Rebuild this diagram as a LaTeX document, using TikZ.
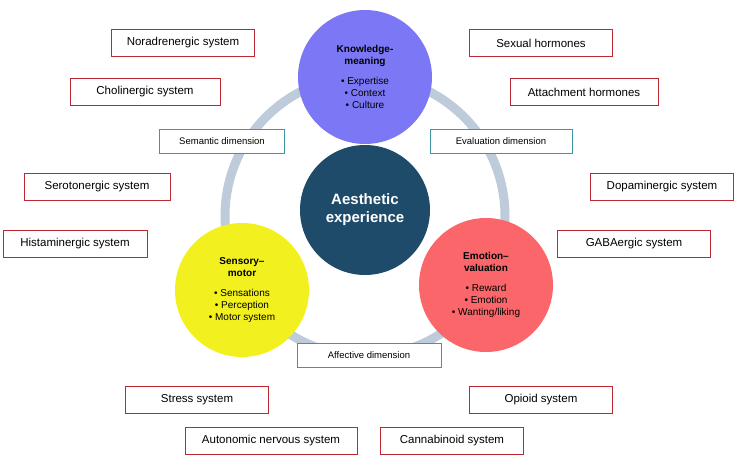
\documentclass[tikz,border=0pt]{standalone}
\usepackage{fontspec}
\setmainfont{Liberation Sans}
\begin{document}
\begin{tikzpicture}[x=1pt,y=-1pt,
 rb/.style={draw={rgb,255:red,190;green,40;blue,50},line width=0.9pt,fill=white,minimum width=143pt,minimum height=27pt,font=\fontsize{11.5}{13}\selectfont},
 tb/.style={draw={rgb,255:red,60;green,150;blue,170},line width=0.8pt,fill=white,minimum height=24pt,font=\fontsize{9.5}{11}\selectfont},
 circ/.style={circle,minimum size=134pt,align=center,font=\fontsize{10}{12}\selectfont}]
\useasboundingbox (0,0) rectangle (736,458);
\draw[line width=9pt,color={rgb,255:red,190;green,203;blue,218}] (365,216) circle (140);
\node[circ,fill={rgb,255:red,31;green,75;blue,107},text=white,minimum size=130pt,font=\bfseries\fontsize{15}{18}\selectfont] (c) at (365,210) {Aesthetic\\experience};
\node[circ,fill={rgb,255:red,124;green,120;blue,245}] (k) at (365,77) {\textbf{Knowledge-}\\\textbf{meaning}\\[8pt]• Expertise\\• Context\\• Culture};
\node[circ,fill={rgb,255:red,242;green,240;blue,30}] (s) at (242,290) {\textbf{Sensory–}\\\textbf{motor}\\[8pt]• Sensations\\• Perception\\• Motor system};
\node[circ,fill={rgb,255:red,250;green,102;blue,106}] (e) at (486,285) {\textbf{Emotion–}\\\textbf{valuation}\\[8pt]• Reward\\• Emotion\\• Wanting/liking};
\node[tb,minimum width=125pt] (sd) at (222,141) {Semantic dimension};
\node[tb,minimum width=142pt] (ed) at (501,141) {Evaluation dimension};
\node[tb,minimum width=144pt] (ad) at (369,355) {Affective dimension};
\node[rb] (n1) at (183,43) {Noradrenergic system};
\node[rb,minimum width=150pt] (n2) at (145,92) {Cholinergic system};
\node[rb,minimum width=146pt] (n3) at (97,187) {Serotonergic system};
\node[rb,minimum width=144pt] (n4) at (75,244) {Histaminergic system};
\node[rb] (n5) at (541,43) {Sexual hormones};
\node[rb,minimum width=148pt] (n6) at (584,92) {Attachment hormones};
\node[rb] (n7) at (662,187) {Dopaminergic system};
\node[rb,minimum width=153pt] (n8) at (634,244) {GABAergic system};
\node[rb] (n9) at (197,400) {Stress system};
\node[rb,minimum width=172pt] (n10) at (271,441) {Autonomic nervous system};
\node[rb] (n11) at (541,400) {Opioid system};
\node[rb] (n12) at (452,441) {Cannabinoid system};
\end{tikzpicture}
\end{document}
